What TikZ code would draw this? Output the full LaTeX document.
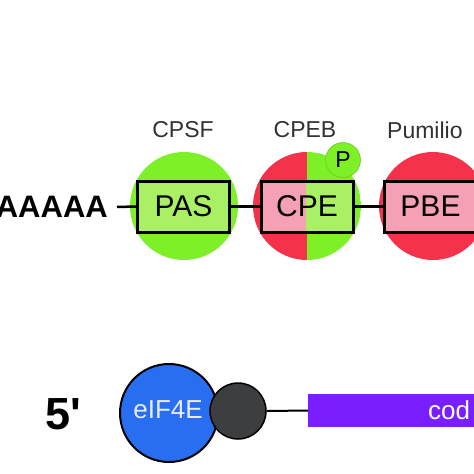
\documentclass[tikz,border=0pt]{standalone}
\usepackage{fontspec}
\setmainfont{Liberation Sans}
\definecolor{limeg}{RGB}{125,240,40}
\definecolor{boxg}{RGB}{170,240,100}
\definecolor{redc}{RGB}{245,50,75}
\definecolor{pinkc}{RGB}{245,160,180}
\definecolor{bluec}{RGB}{40,110,240}
\definecolor{darkc}{RGB}{60,62,64}
\definecolor{purplec}{RGB}{120,30,255}
\definecolor{labelc}{RGB}{50,50,50}
\newcommand{\fsz}[1]{\fontsize{#1}{#1}\selectfont}
\begin{document}
\begin{tikzpicture}[x=1pt,y=-1pt,
  bigcirc/.style={circle,minimum size=108pt,inner sep=0pt},
  elembox/.style={rectangle,draw=black,line width=3pt,minimum width=92pt,minimum height=51pt,inner sep=0pt,font=\fsz{30}},
  protlab/.style={text=labelc,font=\fsz{23},inner sep=0pt},
  wire/.style={line width=2.5pt,black}]
\useasboundingbox (0,0) rectangle (474,474);
\fill[white] (0,0) rectangle (474,474);
% top circles
\node[bigcirc,fill=limeg] (cpsf) at (184,206) {};
\node[bigcirc,path picture={
  \fill[redc] (path picture bounding box.south west) rectangle (path picture bounding box.north);
  \fill[limeg] (path picture bounding box.south) rectangle (path picture bounding box.north east);}] (cpeb) at (307,206) {};
\node[bigcirc,fill=redc] (pum) at (433,206) {};
\node[circle,minimum size=35pt,inner sep=0pt,fill=limeg,draw=limeg!85!black,line width=0.6pt,font=\fsz{23}] (phos) at (343,160) {P};
% labels
\node[protlab] (cpsflab) at (183,130) {CPSF};
\node[protlab] (cpeblab) at (305,130) {CPEB};
\node[protlab,anchor=west] (pumlab) at (387,130) {Pumilio};
% boxes
\node[elembox,fill=boxg] (pas) at (183.5,206.5) {PAS};
\node[elembox,path picture={
  \fill[pinkc] (path picture bounding box.south west) rectangle ([xshift=-1pt]path picture bounding box.north);
  \fill[boxg] ([xshift=-1pt]path picture bounding box.south) rectangle (path picture bounding box.north east);}] (cpe) at (307,206.5) {CPE};
\node[elembox,fill=pinkc] (pbe) at (430.5,206.5) {PBE};
% poly A tail
\node[anchor=east,inner sep=0pt,font=\bfseries\fsz{31}] (polya) at (108,207) {AAAAA};
\coordinate (tailend) at (117,207);
\draw[wire] (tailend) -- (pas.west);
\draw[wire] (pas.east) -- (cpe.west);
\draw[wire] (cpe.east) -- (pbe.west);
% bottom row
\node[inner sep=0pt,font=\bfseries\fsz{45}] (five) at (63,414) {5\textquotesingle};
\node[circle,minimum size=98pt,inner sep=0pt,fill=bluec,draw=black,line width=2pt] (eif) at (169,413) {};
\node[inner sep=0pt,text=white!92!blue,font=\fsz{26}] (eiftxt) at (168,410) {eIF4E};
\node[circle,minimum size=56pt,inner sep=0pt,fill=darkc,draw=black,line width=1.5pt] (cap) at (238,411) {};
\node[rectangle,anchor=west,minimum width=260pt,minimum height=33pt,inner sep=0pt,fill=purplec] (cds) at (308,410.5) {};
\node[anchor=west,inner sep=0pt,text=white,font=\fsz{26}] (cdstxt) at (428,410) {cod};
\draw[line width=2pt,black] (cap.east) -- (cds.west);
\end{tikzpicture}
\end{document}
